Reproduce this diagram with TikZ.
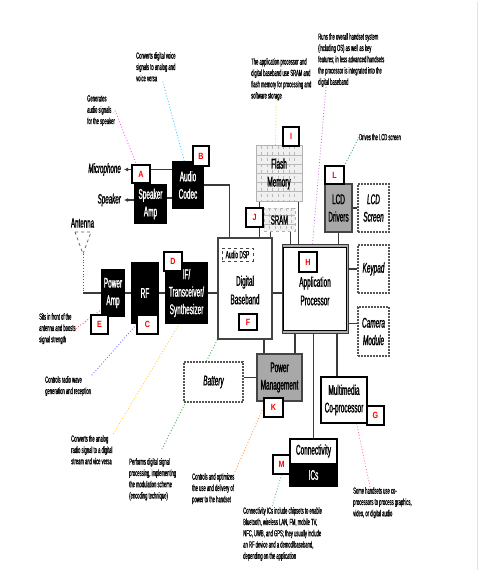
\documentclass[tikz,border=0pt]{standalone}
\usepackage{fontspec}
\setmainfont{Liberation Sans}[FakeStretch=0.46,FakeBold=0.6]
\newfontfamily\boxfont{Liberation Sans}[FakeStretch=0.46,FakeBold=1.2]
\newfontfamily\letterfont{Liberation Sans}[FakeStretch=0.8]
\usetikzlibrary{backgrounds,arrows.meta}
\definecolor{wirecol}{HTML}{3A3A3A}
\definecolor{boxgray}{HTML}{A8A8A8}
\definecolor{darkline}{HTML}{444444}
\definecolor{dotcol}{HTML}{555555}
\definecolor{cA}{HTML}{FF55FF}
\definecolor{cB}{HTML}{44CCFF}
\definecolor{cI}{HTML}{C8F040}
\definecolor{cH}{HTML}{CC66DD}
\definecolor{cL}{HTML}{339999}
\definecolor{cE}{HTML}{FF5060}
\definecolor{cC}{HTML}{7070FF}
\definecolor{cD}{HTML}{FFCC44}
\definecolor{cF}{HTML}{44AA44}
\definecolor{cK}{HTML}{FF9944}
\definecolor{cG}{HTML}{FF77AA}
\definecolor{cM}{HTML}{44CC99}
\begin{document}
\begin{tikzpicture}[x=1pt,y=-1pt,
  box/.style={draw=black, rectangle, inner sep=0pt, line width=1.3pt, align=center,
    font=\boxfont\fontsize{14}{17.5}\selectfont},
  blackbox/.style={box, fill=black, text=white},
  graybox/.style={box, fill=boxgray, draw=darkline},
  whitebox/.style={box, fill=white},
  dotbox/.style={box, draw=dotcol, line width=2pt, dash pattern=on 1.6pt off 1.4pt,
    fill=white, font=\boxfont\fontsize{14}{17.5}\selectfont\itshape},
  letter/.style={draw=black, fill=white, line width=1.2pt, inner sep=0pt, text=red,
    font=\letterfont\bfseries\fontsize{9}{9}\selectfont},
  note/.style={align=left, inner sep=0pt, font=\fontsize{9}{11.3}\selectfont, anchor=north west},
  plain/.style={inner sep=0pt, font=\boxfont\fontsize{13.5}{16}\selectfont},
  wire/.style={draw=wirecol, line width=1.1pt},
  leader/.style={line width=0.9pt, dotted},
  gridline/.style={draw=gray!55, line width=0.5pt},
]
\useasboundingbox (0,0) rectangle (480,572);

% ---------- main blocks ----------
\node[blackbox, minimum width=30pt, minimum height=46pt] (codec) at (188,185) {Audio\\Codec};
\node[blackbox, minimum width=31pt, minimum height=38pt] (spamp) at (150.5,204) {Speaker\\Amp};
\node[blackbox, minimum width=22pt, minimum height=46pt] (pa) at (113,293) {Power\\Amp};
\node[blackbox, minimum width=26pt, minimum height=60pt] (rf) at (145,293) {RF};
\node[blackbox, minimum width=41pt, minimum height=60pt] (ifbox) at (186.5,293) {IF/\\Transceiver/\\Synthesizer};
\node[whitebox, draw=darkline, minimum width=54pt, minimum height=101pt] (db) at (245,288.5) {};
\node[draw=darkline, dashed, line width=0.8pt, inner sep=0pt, minimum width=31pt, minimum height=13pt,
  font=\fontsize{10.5}{12}\selectfont] (dsp) at (237.5,254.5) {Audio DSP};
\node[plain, align=center, font=\boxfont\fontsize{14}{18.5}\selectfont] (dbtxt) at (245,290) {Digital\\Baseband};

\node[box, fill=gray!65, draw=gray!45!black, line width=1pt, minimum width=66pt, minimum height=89pt] (ap) at (315,288.5) {};
\draw[fill=white, draw=black, line width=1.2pt] ([shift={(2,4)}]ap.north west) rectangle ([shift={(-2,-3)}]ap.south east);
\node[plain, align=center, font=\boxfont\fontsize{14}{18.5}\selectfont] (aptxt) at (315,291) {Application\\Processor};

% flash memory with grid
\node[box, fill=gray!12, draw=gray!60, line width=1pt, minimum width=46pt, minimum height=55pt] (flash) at (279,173.5) {};
\begin{scope}
  \clip (flash.north west) rectangle (flash.south east);
  \foreach \yy in {155,164,173,182,191} \draw[gridline] (256,\yy) -- (302,\yy);
  \foreach \xx in {261.5,267,272.5,278,283.5,289,294.5} \draw[gridline, dashed] (\xx,146) -- (\xx,201);
\end{scope}
\node[plain, align=center, font=\boxfont\fontsize{14}{18}\selectfont] (flashtxt) at (279,174) {Flash\\Memory};

\node[box, fill=gray!12, draw=gray!60, line width=1pt, dashed, minimum width=31pt, minimum height=23pt] (sram) at (279.5,219.5) {};
\begin{scope}
  \clip (sram.north west) rectangle (sram.south east);
  \foreach \yy in {215,224} \draw[gridline] (264,\yy) -- (295,\yy);
  \foreach \xx in {269.5,275,280.5,286,291.5} \draw[gridline, dashed] (\xx,208) -- (\xx,231);
\end{scope}
\node[plain, font=\boxfont\fontsize{13}{15}\selectfont] (sramtxt) at (279.5,220) {SRAM};

\node[graybox, minimum width=27pt, minimum height=48pt] (lcdd) at (338.5,208) {LCD\\Drivers};
\node[dotbox, minimum width=31pt, minimum height=48pt] (lcds) at (373.5,208) {LCD\\Screen};
\node[dotbox, minimum width=31pt, minimum height=48pt] (keypad) at (373.5,269) {Keypad};
\node[dotbox, minimum width=31pt, minimum height=49pt] (camera) at (373.5,331.5) {Camera\\Module};
\node[dotbox, minimum width=59pt, minimum height=40pt] (battery) at (213.5,382) {Battery};
\node[graybox, minimum width=45pt, minimum height=47pt] (pm) at (279.5,377.5) {Power\\Management};
\node[whitebox, minimum width=46pt, minimum height=46pt] (mm) at (344,400) {Multimedia\\Co-processor};

\node[whitebox, minimum width=47pt, minimum height=47pt] (conn) at (313.5,462.5) {};
\fill[black] (conn.west) rectangle (conn.south east);
\draw[line width=1.3pt] (conn.north west) rectangle (conn.south east);
\node[plain, font=\boxfont\fontsize{14}{16}\selectfont] (conntop) at (313.5,451) {Connectivity};
\node[plain, font=\boxfont\fontsize{14}{16}\selectfont, text=white] (connbot) at (313.5,475) {ICs};

% ---------- plain labels ----------
\node[plain, anchor=east, font=\boxfont\fontsize{13.5}{16}\selectfont\itshape] (mic) at (121,169.5) {Microphone};
\node[plain, anchor=east, font=\boxfont\fontsize{13.5}{16}\selectfont\itshape] (spk) at (121,200) {Speaker};
\node[plain] (antlabel) at (82.5,223) {Antenna};
\coordinate (antl) at (75,232);
\coordinate (antr) at (91,232);
\coordinate (antapex) at (83,254);
\draw[dashed, draw=gray!70!black, line width=0.7pt] (antl) -- (antr) -- (antapex) -- cycle;

% ---------- letter boxes ----------
\node[letter, minimum width=18pt, minimum height=18pt] (A) at (141,174) {A};
\node[letter, minimum width=16pt, minimum height=20pt] (B) at (201,156) {B};
\node[letter, minimum width=21pt, minimum height=19pt] (C) at (147.5,324.5) {C};
\node[letter, minimum width=18pt, minimum height=19pt] (D) at (173,261.5) {D};
\node[letter, minimum width=17pt, minimum height=19pt] (E) at (99.5,324.5) {E};
\node[letter, minimum width=18pt, minimum height=16pt] (F) at (248,322) {F};
\node[letter, minimum width=17pt, minimum height=19pt] (G) at (375.5,415.5) {G};
\node[letter, minimum width=18pt, minimum height=20pt] (H) at (308,262) {H};
\node[letter, minimum width=16pt, minimum height=19pt] (I) at (291,136.5) {I};
\node[letter, minimum width=17pt, minimum height=19pt] (J) at (254.5,217.5) {J};
\node[letter, minimum width=19pt, minimum height=19pt] (K) at (273.5,407.5) {K};
\node[letter, minimum width=19pt, minimum height=18pt] (L) at (334.5,175) {L};
\node[letter, minimum width=17pt, minimum height=19pt] (M) at (281.5,464.5) {M};

% ---------- notes ----------
\node[note] (noteB) at (136,52) {Converts digital voice\\signals to analog and\\voice versa};
\node[note] (noteA) at (87,95) {Generates\\audio signals\\for the speaker};
\node[note] (noteI) at (251,58) {The application processor and\\digital baseband use SRAM and\\flash memory for processing and\\software storage};
\node[note] (noteH) at (318,33) {Runs the overall handset system\\(including OS) as well as key\\features; in less advanced handsets\\the processor is integrated into the\\digital baseband};
\node[note, anchor=west] (noteL) at (359,137) {Drives the LCD screen};
\node[note] (noteE) at (39,313) {Sits in front of the\\antenna and boosts\\signal strength};
\node[note] (noteC) at (45,376) {Controls radio wave\\generation and reception};
\node[note] (noteD) at (71,435) {Converts the analog\\radio signal to a digital\\stream and vice versa};
\node[note] (noteF) at (129,458) {Performs digital signal\\processing, implementing\\the modulation scheme\\(encoding technique)};
\node[note] (noteK) at (192,473) {Controls and optimizes\\the use and delivery of\\power to the handset};
\node[note] (noteG) at (353,487) {Some handsets use co-\\processors to process graphics,\\video, or digital audio};
\node[note] (noteM) at (243,507) {Connectivity ICs include chipsets to enable\\Bluetooth, wireless LAN, FM, mobile TV,\\NFC, UWB, and GPS; they usually include\\an RF device and a demod/baseband,\\depending on the application};

% ---------- connectors (under the boxes) ----------
\begin{pgfonlayer}{background}
\fill[white] (0,0) rectangle (480,572);
\draw[gray!22, line width=1.5pt] (477.5,2) -- (477.5,570);

\draw[wire, {Latex[length=4pt,width=4pt]}-] ([xshift=3pt]mic.east) -- (mic.east -| codec.west);
\draw[wire, {Latex[length=4pt,width=4pt]}-] ([xshift=3pt]spk.east) -- (spk.east -| spamp.west);
\draw[wire] ([yshift=6pt]spamp.east) -- ([yshift=6pt]spamp.east -| codec.west);
\draw[wire] (codec.east) -| ([xshift=12pt]db.north west);

\draw[dotted, draw=gray!70!black, line width=0.8pt] (antapex) -- (antapex |- pa.west);
\draw[wire] (antapex |- pa.west) -- (pa.west);
\draw[wire] (pa.east) -- (rf.west);
\draw[wire] (rf.east) -- (ifbox.west);
\draw[wire] (ifbox.east) -- (ifbox.east -| db.west);
\draw[wire] (ifbox.east -| db.east) -- (ifbox.east -| ap.west);

\coordinate (f1) at ([xshift=4pt]flash.south west);
\coordinate (s1) at ([xshift=7pt]sram.south west);
\coordinate (s2) at ([xshift=-5pt]sram.south east);
\coordinate (f2) at ([xshift=-4pt]flash.south east);
\draw[wire] (f1) -- (f1 |- db.north);
\draw[wire] (s1) -- (s1 |- db.north);
\draw[wire] (s2) -- (s2 |- ap.north);
\draw[wire] (f2) -- (f2 |- ap.north);

\draw[wire] (lcdd.south) -- (lcdd.south |- ap.north);
\draw[wire] (lcdd.east) -- (lcds.west);
\draw[wire] (keypad.west -| ap.east) -- (keypad.west);
\draw[wire] ([yshift=8pt]camera.west -| ap.east) -- ([yshift=8pt]camera.west);

\coordinate (d1) at ([xshift=-15.5pt]pm.north);
\coordinate (p2) at ([xshift=15.5pt]pm.north);
\coordinate (m1) at ([xshift=-7pt]mm.north);
\draw[wire] (d1 |- db.south) -- (d1);
\draw[wire] (p2 |- ap.south) -- (p2);
\draw[wire] (conn.north |- ap.south) -- (conn.north);
\draw[wire] (m1 |- ap.south) -- (m1);
\draw[wire] (pm.west -| battery.east) -- (pm.west);

% leaders
\draw[leader, cA] (noteA.east) -- ([xshift=5pt]A.north west);
\draw[leader, cB] ([xshift=7pt]noteB.south) -- ([xshift=12pt]codec.north west);
\draw[leader, cI] ([xshift=-5pt]noteI.south) -- ([xshift=20pt]flash.north west);
\draw[leader, cH] ([xshift=8pt]noteH.south west) -- ([xshift=31pt]ap.north west);
\draw[leader, cL] (noteL.west) -- (L.north east);
\draw[leader, cE] (noteE.east) -- ([yshift=7pt]pa.south west);
\draw[leader, cC] (C.west) -- (noteC.north east);
\draw[leader, cD] ([xshift=14pt]ifbox.south west) -- (noteD.north east);
\draw[leader, cF] (db.south west) -- ([shift={(33,-9)}]noteF.north west);
\draw[leader, cK] (K.west) -- (noteK.north east);
\draw[leader, cG] ([xshift=-11pt]mm.south east) -- ([xshift=17pt]noteG.north west);
\draw[leader, cM] (M.south) -- ([xshift=29pt]noteM.north west);
\end{pgfonlayer}
\end{tikzpicture}
\end{document}
